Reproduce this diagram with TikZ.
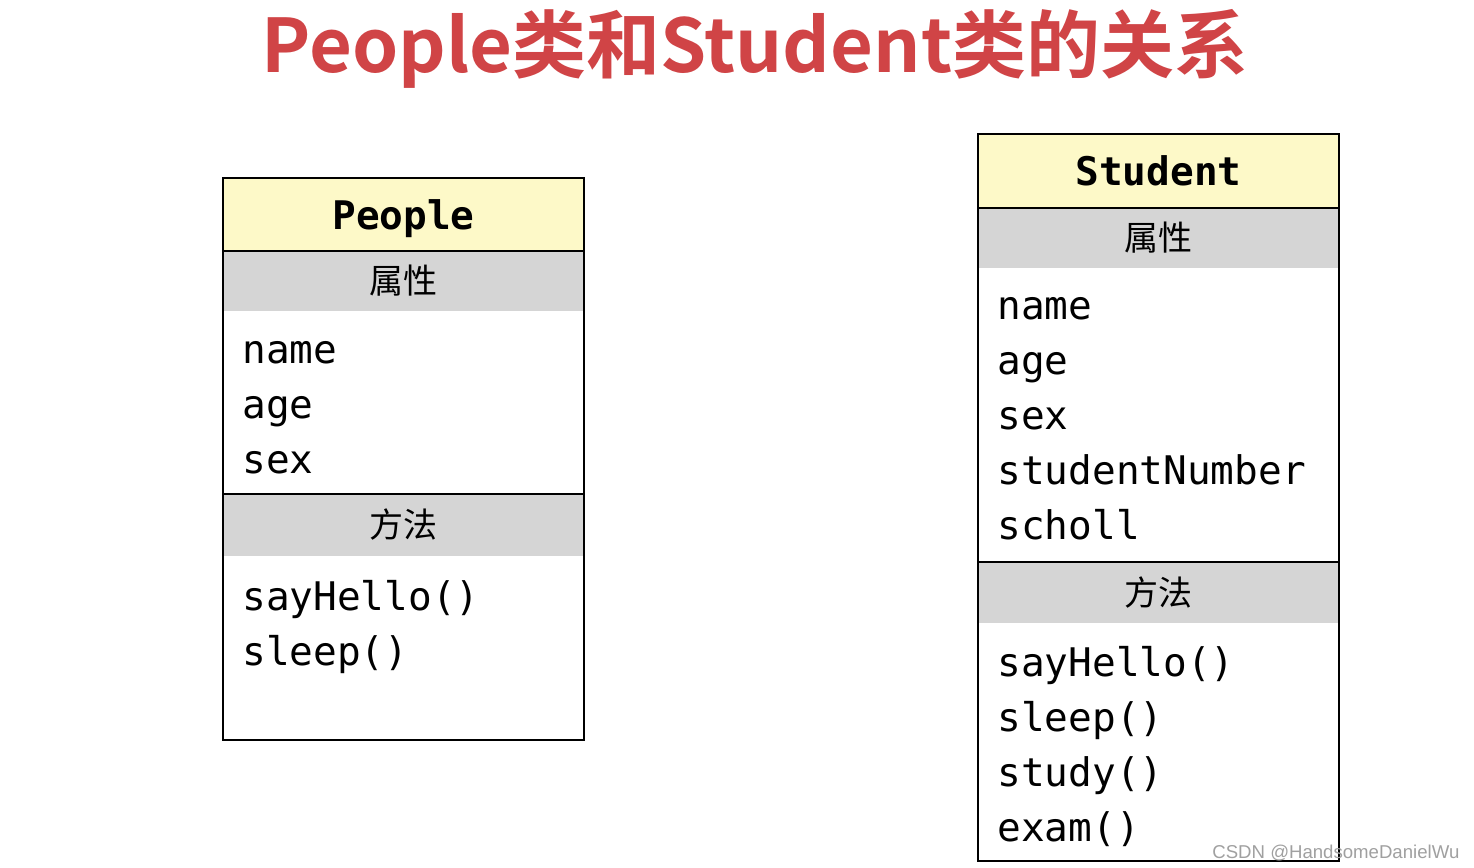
\documentclass[tikz,border=0pt]{standalone}
\usepackage{fontspec}
\setmonofont{DejaVu Sans Mono}
\newfontfamily\cjk[BoldFont={Noto Sans CJK SC Bold}]{Noto Sans CJK SC}
\newfontfamily\markfont{Liberation Sans}
\usetikzlibrary{positioning}
\definecolor{headyellow}{HTML}{FDF9C8}
\definecolor{bandgray}{HTML}{D5D5D5}
\definecolor{titlered}{HTML}{D04446}
\definecolor{markgray}{HTML}{A0A0A0}
\tikzset{
  title/.style={text=titlered, inner sep=0pt, font=\cjk\bfseries\fontsize{37}{37}\selectfont},
  classhead/.style={draw=black, line width=1.2pt, fill=headyellow, minimum width=180.5pt,
    inner sep=0pt, outer sep=0pt, anchor=north west, text depth=0pt,
    font=\ttfamily\bfseries\fontsize{19.7}{20}\selectfont},
  band/.style={fill=bandgray, minimum width=180.5pt, inner sep=0pt, outer sep=0pt,
    font=\cjk\fontsize{17}{17}\selectfont},
  body/.style={fill=white, minimum width=180.5pt, inner sep=0pt, outer sep=0pt},
  boxline/.style={draw=black, line width=1.2pt},
  member/.style={anchor=base west, inner sep=0pt, font=\ttfamily\fontsize{19.7}{20}\selectfont},
  watermark/.style={anchor=base west, inner sep=0pt, text=markgray, font=\markfont\fontsize{9.3}{9.3}\selectfont}
}
\begin{document}
\begin{tikzpicture}[x=0.5pt, y=-0.5pt]
  \fill[white] (0,0) rectangle (1474,868);
  \useasboundingbox (0,0) rectangle (1474,868);

  \node[title] (title) at (755,49) {People类和Student类的关系};

  % People
  \node[classhead, minimum height=36.5pt] (people) at (223,178) {People};
  \node[band, minimum height=30pt, below=0pt of people] (peopleAttrBand) {属性};
  \node[body, minimum height=91.5pt, below=0pt of peopleAttrBand] (peopleAttrs) {};
  \node[band, minimum height=31pt, below=0pt of peopleAttrs] (peopleMethBand) {方法};
  \node[body, minimum height=92pt, below=0pt of peopleMethBand] (peopleMeths) {};
  \draw[boxline] (people.north west) rectangle (peopleMeths.south east);
  \draw[boxline] (people.south west) -- (people.south east);
  \draw[boxline] (peopleAttrs.south west) -- (peopleAttrs.south east);
  \node[member] (pName) at (242,363) {name};
  \node[member] (pAge) at (242,418) {age};
  \node[member] (pSex) at (242,473) {sex};
  \node[member] (pSayHello) at (242,610) {sayHello()};
  \node[member] (pSleep) at (242,665) {sleep()};

  % Student
  \node[classhead, minimum height=37pt] (student) at (978,134) {Student};
  \node[band, minimum height=30pt, below=0pt of student] (studentAttrBand) {属性};
  \node[body, minimum height=147pt, below=0pt of studentAttrBand] (studentAttrs) {};
  \node[band, minimum height=30.5pt, below=0pt of studentAttrs] (studentMethBand) {方法};
  \node[body, minimum height=119pt, below=0pt of studentMethBand] (studentMeths) {};
  \draw[boxline] (student.north west) rectangle (studentMeths.south east);
  \draw[boxline] (student.south west) -- (student.south east);
  \draw[boxline] (studentAttrs.south west) -- (studentAttrs.south east);
  \node[member] (sName) at (997,319) {name};
  \node[member] (sAge) at (997,374) {age};
  \node[member] (sSex) at (997,429) {sex};
  \node[member] (sNumber) at (997,484) {studentNumber};
  \node[member] (sScholl) at (997,539) {scholl};
  \node[member] (sSayHello) at (997,676) {sayHello()};
  \node[member] (sSleep) at (997,731) {sleep()};
  \node[member] (sStudy) at (997,786) {study()};
  \node[member] (sExam) at (997,841) {exam()};

  \node[watermark] (mark) at (1212,858) {CSDN @HandsomeDanielWu};
\end{tikzpicture}
\end{document}
